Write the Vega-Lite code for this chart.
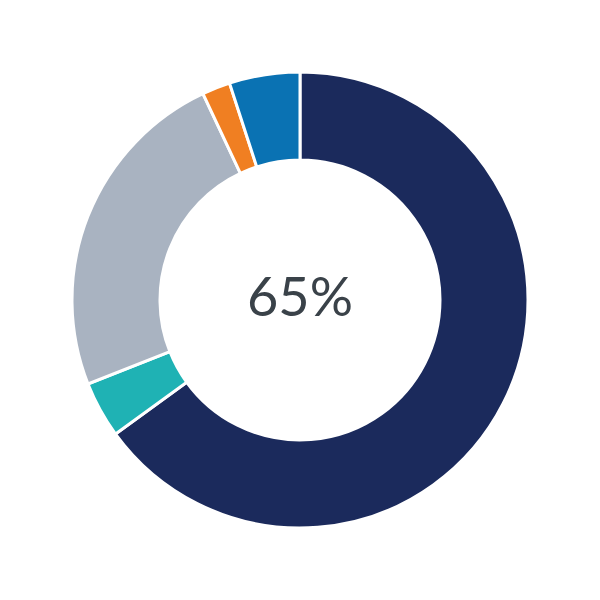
{
  "$schema": "https://vega.github.io/schema/vega-lite/v6.json",
  "autosize": {"type": "fit", "contains": "padding"},
  "width": 600,
  "height": 600,
  "padding": 0,
  "background": "white",
  "view": {"stroke": null},
  "datasets": {
    "segments": [
      {"category": "A", "value": 65, "order": 1},
      {"category": "B", "value": 4, "order": 2},
      {"category": "C", "value": 24, "order": 3},
      {"category": "D", "value": 2, "order": 4},
      {"category": "E", "value": 5, "order": 5}
    ],
    "center": [{"label": "65%"}]
  },
  "layer": [
    {
      "data": {"name": "segments"},
      "mark": {"type": "arc", "outerRadius": 228, "innerRadius": 140, "stroke": "white", "strokeWidth": 3},
      "encoding": {
        "theta": {"field": "value", "type": "quantitative", "stack": true},
        "order": {"field": "order", "type": "quantitative"},
        "color": {
          "field": "category",
          "type": "nominal",
          "scale": {"domain": ["A", "B", "C", "D", "E"], "range": ["#1b2a5c", "#1fb2b4", "#a9b3c1", "#f07f22", "#0a72b3"]},
          "legend": null
        }
      }
    },
    {
      "data": {"name": "center"},
      "mark": {"type": "text", "font": "Lato", "fontWeight": "normal", "fontSize": 54, "color": "#3a4249", "align": "center", "baseline": "middle"},
      "encoding": {"text": {"field": "label", "type": "nominal"}}
    }
  ]
}
